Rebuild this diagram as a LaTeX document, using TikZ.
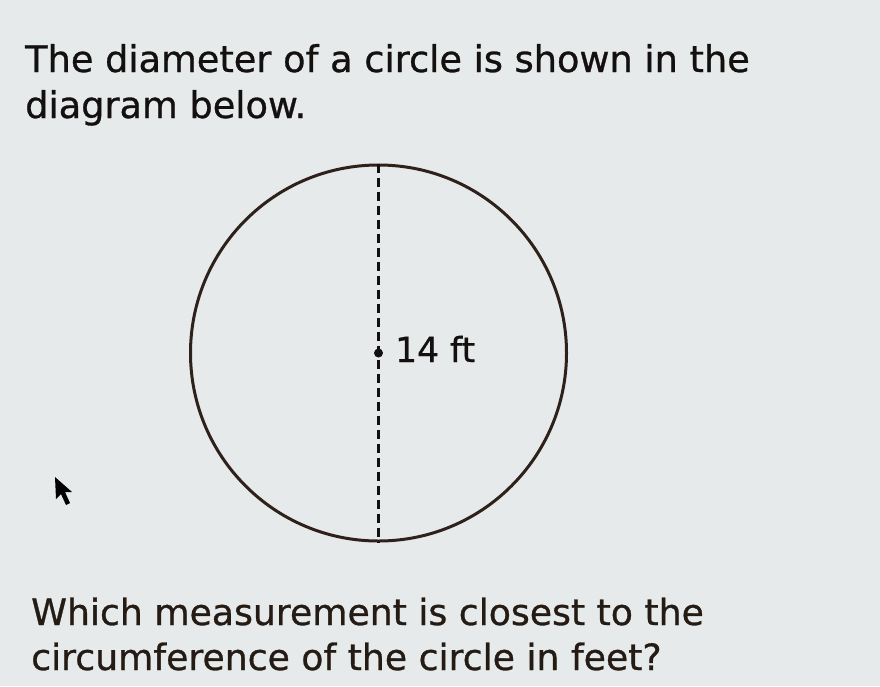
\documentclass[tikz,border=0pt]{standalone}
\usepackage{fontspec}
\setmainfont{DejaVu Sans}
\newfontfamily\heavy[FakeBold=0.8]{DejaVu Sans}
\definecolor{bg}{HTML}{E7EAEA}
\definecolor{ink}{HTML}{141010}
\definecolor{rim}{HTML}{2E211C}
\tikzset{
  qtext/.style={anchor=base west, inner sep=0pt, text=ink, font=\heavy\fontsize{36.7}{44}\selectfont},
  btext/.style={anchor=base west, inner sep=0pt, text=ink!90!brown, font=\heavy\fontsize{36.2}{40}\selectfont},
  diam/.style={draw=rim, line width=3pt, circle, minimum size=376pt, inner sep=0pt},
  dashline/.style={draw=ink, line width=3.4pt, dash pattern=on 9pt off 5pt},
}
\begin{document}
\begin{tikzpicture}[x=1pt,y=-1pt]
\fill[bg] (0,0) rectangle (880,686);
\useasboundingbox (0,0) rectangle (880,686);
\node[qtext] (t1) at (25,72) {The diameter of a circle is shown in the};
\node[qtext] (t2) at (25,118) {diagram below.};
\node[diam] (c) at (378.5,353) {};
\draw[dashline] (c.north) -- (c.south);
\node[circle, fill=ink, minimum size=9pt, inner sep=0pt] (dot) at (c.center) {};
\node[anchor=base west, inner sep=0pt, text=ink, font=\heavy\fontsize{34.5}{40}\selectfont] (lab) at (395,362) {14 ft};
\node[btext] (b1) at (31,625) {Which measurement is closest to the};
\node[btext] (b2) at (31,670) {circumference of the circle in feet?};
\fill[black] (55,477) -- (56,499) -- (61,494) -- (66,505) -- (70,503) -- (65,492) -- (72,492) -- cycle;
\end{tikzpicture}
\end{document}
